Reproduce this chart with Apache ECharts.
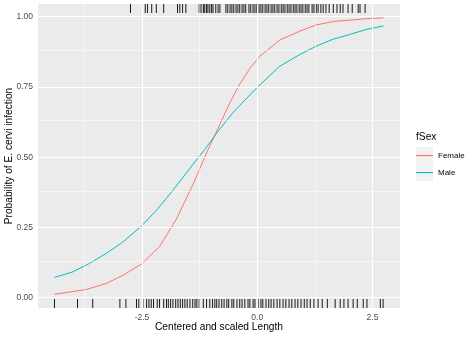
<!DOCTYPE html>
<html>
<head>
<meta charset="utf-8">
<script src="https://cdn.jsdelivr.net/npm/echarts@6/dist/echarts.min.js"></script>
<style>
html,body{margin:0;padding:0;background:#fff;}
#c{width:474px;height:338px;}
</style>
</head>
<body>
<div id="c"></div>
<script>
// ---- data ----
const femaleX = [-4.40, -3.71, -3.27, -2.91, -2.51, -2.12, -1.75, -1.39, -1.25, -1.10, -0.81, -0.60, -0.38, -0.15, 0.06, 0.49, 0.93, 1.29, 1.65, 2.02, 2.38, 2.74];
const femaleY = [0.012, 0.029, 0.051, 0.080, 0.120, 0.182, 0.281, 0.405, 0.458, 0.515, 0.617, 0.692, 0.760, 0.818, 0.860, 0.917, 0.949, 0.971, 0.983, 0.988, 0.993, 0.996];
const maleX = [-4.40, -4.00, -3.64, -3.27, -2.91, -2.51, -2.18, -1.82, -1.46, -1.14, -0.88, -0.52, -0.01, 0.49, 0.93, 1.29, 1.65, 2.02, 2.38, 2.74];
const maleY = [0.072, 0.092, 0.122, 0.158, 0.199, 0.255, 0.3125, 0.384, 0.461, 0.527, 0.586, 0.660, 0.747, 0.824, 0.866, 0.896, 0.920, 0.9375, 0.955, 0.967];
// rug: lengths of infected (top) and uninfected (bottom) animals
const rugInfected = [-2.75, -2.43, -2.38, -2.29, -2.19, -2.03, -1.73, -1.68, -1.62, -1.55, -1.26, -1.22, -1.17, -1.14, -1.10, -1.07, -1.03, -0.99, -0.96, -0.90, -0.85, -0.81, -0.68, -0.64, -0.59, -0.55, -0.51, -0.46, -0.42, -0.38, -0.33, -0.29, -0.25, -0.18, -0.14, -0.09, -0.05, -0.01, 0.04, 0.08, 0.12, 0.17, 0.21, 0.25, 0.30, 0.34, 0.38, 0.43, 0.47, 0.52, 0.56, 0.60, 0.65, 0.69, 0.73, 0.78, 0.82, 0.86, 0.91, 0.95, 0.99, 1.04, 1.08, 1.12, 1.19, 1.23, 1.28, 1.32, 1.38, 1.43, 1.49, 1.56, 1.65, 1.73, 1.80, 1.86, 1.97, 2.06, 2.19, 2.23, 2.34];
const rugUninfected = [-4.40, -3.90, -3.57, -2.98, -2.85, -2.62, -2.57, -2.48, -2.40, -2.35, -2.30, -2.25, -2.17, -2.12, -2.03, -1.97, -1.93, -1.88, -1.83, -1.77, -1.72, -1.67, -1.62, -1.57, -1.52, -1.46, -1.40, -1.35, -1.31, -1.26, -1.17, -1.10, -1.03, -0.97, -0.92, -0.88, -0.83, -0.77, -0.72, -0.66, -0.62, -0.55, -0.51, -0.44, -0.38, -0.33, -0.27, -0.20, -0.16, -0.09, -0.05, 0.02, 0.08, 0.12, 0.19, 0.25, 0.30, 0.36, 0.43, 0.49, 0.56, 0.62, 0.69, 0.75, 0.82, 0.88, 0.95, 1.02, 1.08, 1.15, 1.23, 1.32, 1.41, 1.52, 1.69, 1.80, 1.88, 1.97, 2.08, 2.17, 2.30, 2.38, 2.67, 2.73];
const xMajor = [-2.5, 0, 2.5];
const xMinor = [-3.75, -1.25, 1.25];
const yMajor = [0, 0.25, 0.5, 0.75, 1];
const yMinor = [0.125, 0.375, 0.625, 0.875];
const xLim = [-4.757, 3.097];
const yLim = [-0.0367, 1.0452];

const chart = echarts.init(document.getElementById('c'), null, {renderer: 'canvas'});

function rugItem(side) {
  return function (params, api) {
    const cs = params.coordSys;
    const x = api.coord([api.value(0), 0])[0];
    const len = 9;
    const y1 = side === 'top' ? cs.y : cs.y + cs.height - len;
    return {
      type: 'line',
      shape: {x1: x, y1: y1, x2: x, y2: y1 + len},
      style: {stroke: '#000', lineWidth: 0.9}
    };
  };
}

const gridLines = [];
xMajor.forEach(v => gridLines.push({xAxis: v, lineStyle: {color: '#fff', width: 1.1, type: 'solid'}}));
xMinor.forEach(v => gridLines.push({xAxis: v, lineStyle: {color: '#fff', width: 0.5, type: 'solid'}}));
yMajor.forEach(v => gridLines.push({yAxis: v, lineStyle: {color: '#fff', width: 1.1, type: 'solid'}}));
yMinor.forEach(v => gridLines.push({yAxis: v, lineStyle: {color: '#fff', width: 0.5, type: 'solid'}}));

const option = {
  animation: false,
  textStyle: {fontFamily: 'Liberation Sans, Arial, sans-serif'},
  grid: {left: 38, right: 74, top: 4, bottom: 30, show: true, backgroundColor: '#EBEBEB', borderWidth: 0,
    containLabel: false, outerBoundsMode: 'none'},
  xAxis: {
    type: 'value', min: xLim[0], max: xLim[1],
    name: 'Centered and scaled Length', nameLocation: 'middle', nameGap: 14, nameMoveOverlap: false,
    nameTextStyle: {color: '#000', fontSize: 10.2},
    axisLine: {show: false},
    axisTick: {show: true, length: 3, lineStyle: {color: '#333'}, customValues: xMajor},
    axisLabel: {color: '#4D4D4D', fontSize: 8.5, margin: 5, customValues: xMajor,
      formatter: v => v.toFixed(1)},
    splitLine: {show: false}
  },
  yAxis: {
    type: 'value', min: yLim[0], max: yLim[1],
    name: 'Probability of E. cervi infection', nameLocation: 'middle', nameGap: 24, nameMoveOverlap: false,
    nameTextStyle: {color: '#000', fontSize: 10.2},
    axisLine: {show: false},
    axisTick: {show: true, length: 3, lineStyle: {color: '#333'}, customValues: yMajor},
    axisLabel: {color: '#4D4D4D', fontSize: 8.5, margin: 5, customValues: yMajor,
      formatter: v => v.toFixed(2)},
    splitLine: {show: false}
  },
  legend: {
    orient: 'vertical', left: 416, top: 147, padding: 0, itemGap: 0,
    itemWidth: 17, itemHeight: 17,
    icon: 'path://M0,0L0,0M0,8L17,8L17,9.1L0,9.1ZM17,17L17,17',
    textStyle: {fontSize: 8, color: '#000'},
    data: ['Female', 'Male']
  },
  graphic: [
    {type: 'rect', left: 416, top: 147, shape: {width: 17, height: 17}, style: {fill: '#F2F2F2'}, z: -1},
    {type: 'rect', left: 416, top: 164, shape: {width: 17, height: 17}, style: {fill: '#F2F2F2'}, z: -1},
    {type: 'text', left: 416, top: 132, style: {text: 'fSex', fontSize: 10.2, fill: '#000', fontFamily: 'Liberation Sans, Arial, sans-serif'}}
  ],
  series: [
    {
      type: 'scatter', data: [], silent: true, z: 1,
      markLine: {silent: true, symbol: 'none', label: {show: false}, animation: false, data: gridLines}
    },
    {
      name: 'Female', type: 'line', showSymbol: false, z: 3,
      data: femaleX.map((x, i) => [x, femaleY[i]]),
      lineStyle: {color: '#F8766D', width: 1}, itemStyle: {color: '#F8766D'}
    },
    {
      name: 'Male', type: 'line', showSymbol: false, z: 3,
      data: maleX.map((x, i) => [x, maleY[i]]),
      lineStyle: {color: '#00BFC4', width: 1}, itemStyle: {color: '#00BFC4'}
    },
    {
      type: 'custom', z: 4, silent: true,
      data: rugInfected.map(v => [v]), encode: {x: 0},
      renderItem: rugItem('top')
    },
    {
      type: 'custom', z: 4, silent: true,
      data: rugUninfected.map(v => [v]), encode: {x: 0},
      renderItem: rugItem('bottom')
    }
  ]
};
chart.setOption(option);
</script>
</body>
</html>
